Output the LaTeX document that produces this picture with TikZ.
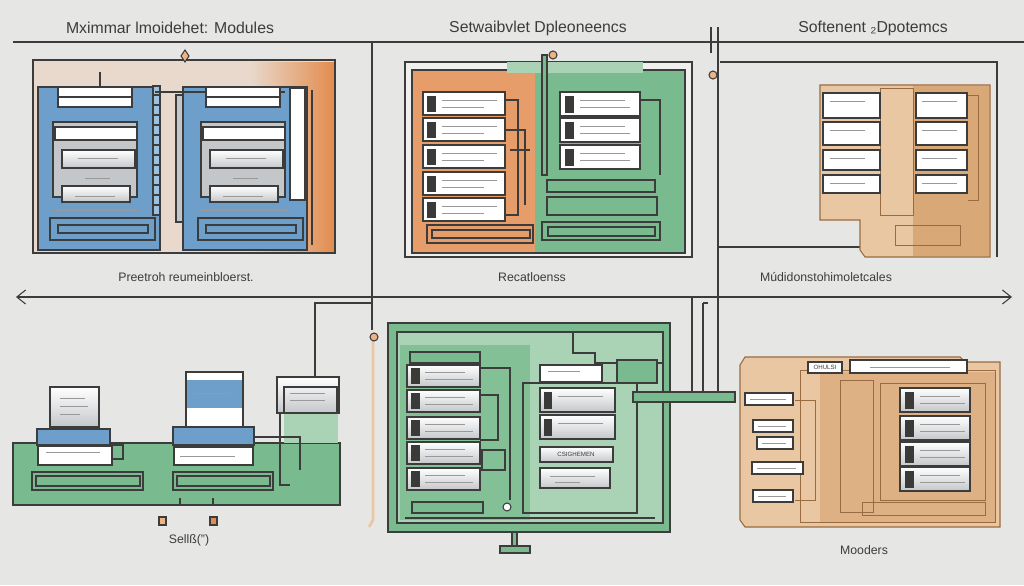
\documentclass[tikz,border=0pt]{standalone}
\usepackage{fontspec}
\setmainfont{Liberation Sans}
\usetikzlibrary{arrows.meta}

\definecolor{paper}{HTML}{E6E6E4}
\definecolor{inkline}{HTML}{3C3C3C}
\definecolor{bluepanel}{HTML}{6E9FCB}
\definecolor{bluelight}{HTML}{9CC0DF}
\definecolor{orangepanel}{HTML}{E38C4E}
\definecolor{orangelight}{HTML}{EDB384}
\definecolor{greenpanel}{HTML}{79BB8F}
\definecolor{greenlight}{HTML}{A9D3B4}
\definecolor{tanpanel}{HTML}{D9A877}
\definecolor{tanlight}{HTML}{E8C7A2}
\definecolor{tanline}{HTML}{9A6B40}
\definecolor{boxgray}{HTML}{C4C7CA}
\definecolor{tabdark}{HTML}{3A3A38}

\tikzset{
  titlelabel/.style={font=\fontsize{9}{11}\selectfont, text=inkline},
  sublabel/.style={font=\fontsize{7}{9}\selectfont, text=inkline},
  tinylabel/.style={font=\fontsize{3.5}{4}\selectfont, text=inkline},
  wire/.style={draw=inkline, line width=0.6pt},
  rowbox/.style={draw=inkline, fill=white, line width=0.7pt},
  grayrow/.style={draw=inkline, top color=white, bottom color=boxgray, line width=0.7pt},
  scribble/.style={draw=gray!80, line width=0.5pt},
}

\begin{document}
\begin{tikzpicture}[x=0.02cm, y=-0.02cm]
    \fill[paper] (0,0) rectangle (1024,585);
    \useasboundingbox (0,0) rectangle (1024,585);

    % Titoli e righe
    \node[titlelabel] (titleA) at (170,28) {Mximmar lmoidehet: Modules};
    \node[titlelabel] (titleB) at (538,28) {Setwaibvlet Dpleoneencs};
    \node[titlelabel] (titleC) at (873,28) {Softenent ₂Dpotemcs};
    \draw[wire] (13,42) -- (1024,42);
    \draw[wire] (372,42) -- (372,330);
    \draw[wire] (711,27) -- (711,53);
    \draw[wire] (718,27) -- (718,330);

    % Asse
    \coordinate (axisL) at (16,297);
    \coordinate (axisR) at (1012,297);
    \draw[wire, {Straight Barb[length=5pt,width=8pt]}-{Straight Barb[length=5pt,width=8pt]}] (axisL) -- (axisR);

    % Pannello blu (in alto a sinistra)
    \draw[wire, fill=orangelight!25!paper] (33,60) rectangle (335,253);
    \shade[left color=orangelight!25!paper, right color=orangepanel] (250,62) rectangle (334,252);
    \draw[wire] (33,60) rectangle (335,253);
    \draw[wire, fill=bluepanel] (38,87) rectangle (160,250);
    \draw[wire, fill=bluepanel] (183,87) rectangle (307,250);
    \draw[wire, fill=bluelight] (153,86) rectangle (160,215);
    \foreach \y in {95,105,...,205} {
        \draw[wire] (153,\y) -- (160,\y);
    }
    \draw[wire, fill=boxgray] (176,95) rectangle (183,222);
    \draw[wire] (155,92) -- (285,92);
    \draw[wire] (100,72) -- (100,87);
    \draw[wire, fill=orangelight] (185,50) -- (189,56) -- (185,62) -- (181,56) -- cycle;
    \foreach \dx in {0,148} {
        \draw[rowbox] (58+\dx,87) rectangle (132+\dx,107);
        \draw[wire] (58+\dx,97) -- (132+\dx,97);
        \draw[wire, fill=boxgray] (53+\dx,122) rectangle (137+\dx,197);
        \draw[rowbox] (55+\dx,127) rectangle (137+\dx,140);
        \draw[grayrow] (62+\dx,150) rectangle (135+\dx,168);
        \draw[scribble] (78+\dx,158) -- (118+\dx,158);
        \draw[scribble] (85+\dx,178) -- (110+\dx,178);
        \draw[grayrow] (62+\dx,186) rectangle (130+\dx,202);
        \draw[scribble] (75+\dx,196) -- (115+\dx,196);
        \draw[scribble] (52+\dx,210) -- (140+\dx,210);
        \draw[wire] (50+\dx,218) rectangle (155+\dx,240);
        \draw[wire] (58+\dx,225) rectangle (148+\dx,233);
    }
    \draw[rowbox] (290,88) rectangle (305,200);
    \draw[wire] (312,90) -- (312,245);
    \node[sublabel] (labA) at (186,277) {Preetroh reumeinbloerst.};

    % Pannello arancio/verde (in alto al centro)
    \draw[wire, fill=white!40!paper] (405,62) rectangle (692,257);
    \fill[orangepanel!85] (412,70) rectangle (535,253);
    \fill[greenpanel] (535,70) rectangle (685,253);
    \draw[wire] (412,70) rectangle (685,253);
    \fill[greenlight] (507,62) rectangle (643,73);
    \draw[wire, fill=greenpanel] (542,55) rectangle (547,175);
    \draw[wire, fill=orangelight] (553,55) circle (4);
    \foreach \y in {92,118,145,172,198} {
        \draw[rowbox] (423,\y) rectangle ++(82,23);
        \fill[tabdark] (427,\y+4) rectangle ++(9,16);
        \draw[scribble] (442,\y+8) -- ++(55,0);
        \draw[scribble] (442,\y+15) -- ++(42,0);
    }
    \foreach \y in {92,118,145} {
        \draw[rowbox] (560,\y) rectangle ++(80,24);
        \fill[tabdark] (565,\y+4) rectangle ++(9,17);
        \draw[scribble] (580,\y+8) -- ++(45,0);
        \draw[scribble] (580,\y+15) -- ++(50,0);
    }
    \draw[wire] (505,100) -- (518,100) -- (518,215) -- (505,215);
    \draw[wire] (505,130) -- (525,130) -- (525,205);
    \draw[wire] (510,150) -- (530,150);
    \draw[wire] (640,100) -- (660,100) -- (660,175);
    \draw[wire] (547,180) rectangle (655,192);
    \draw[wire] (547,197) rectangle (657,215);
    \draw[wire] (542,222) rectangle (660,240);
    \draw[wire] (548,227) rectangle (655,236);
    \draw[wire] (427,225) rectangle (533,243);
    \draw[wire] (432,230) rectangle (530,238);
    \node[sublabel] (labB) at (532,277) {Recatloenss};

    % Pannello marrone (in alto a destra)
    \draw[wire] (720,62) -- (997,62) -- (997,257);
    \draw[wire] (718,247) -- (865,247);
    \draw[wire, fill=orangelight] (713,75) circle (4);
    \draw[draw=tanline, line width=0.6pt, fill=tanlight]
        (820,85) -- (990,85) -- (990,257) -- (865,257) -- (860,250) -- (860,220) -- (820,220) -- cycle;
    \fill[tanpanel] (913,86) rectangle (989,256);
    \draw[draw=tanline] (880,88) rectangle (913,215);
    \draw[draw=tanline] (895,225) rectangle (960,245);
    \draw[draw=tanline] (968,95) -- (978,95) -- (978,200) -- (968,200);
    \foreach \y/\h in {93/25,122/23,150/20,175/18} {
        \draw[rowbox] (823,\y) rectangle ++(57,\h);
        \draw[scribble] (830,\y+8) -- ++(35,0);
        \draw[rowbox] (916,\y) rectangle ++(51,\h);
        \draw[scribble] (922,\y+8) -- ++(35,0);
    }
    \node[sublabel] (labC) at (826,277) {Múdidonstohimoletcales};

    % Barra verde (in basso a sinistra)
    \draw[wire, fill=greenpanel] (13,443) rectangle (340,505);
    \fill[greenlight] (284,413) rectangle (338,443);
    \draw[wire] (32,472) rectangle (143,490);
    \draw[wire] (36,476) rectangle (140,486);
    \draw[wire] (173,472) rectangle (273,490);
    \draw[wire] (177,476) rectangle (270,486);
    \draw[wire] (180,498) -- (180,505);
    \draw[wire] (213,498) -- (213,505);
    \draw[grayrow] (50,387) rectangle (99,427);
    \draw[scribble] (60,398) -- (85,398);
    \draw[scribble] (60,406) -- (88,406);
    \draw[scribble] (60,414) -- (80,414);
    \draw[wire, fill=bluepanel] (37,429) rectangle (110,445);
    \draw[rowbox] (38,446) rectangle (112,465);
    \draw[scribble] (46,452) -- (100,452);
    \draw[wire] (112,445) rectangle (123,459);
    \draw[rowbox] (186,372) rectangle (243,427);
    \fill[bluepanel] (187,380) rectangle (242,408);
    \draw[scribble] (193,393) -- (230,393);
    \draw[wire, fill=bluepanel] (173,427) rectangle (254,445);
    \draw[rowbox] (174,447) rectangle (253,465);
    \draw[scribble] (180,456) -- (235,456);
    \draw[grayrow] (277,377) rectangle (339,413);
    \draw[wire] (284,387) rectangle (337,413);
    \draw[scribble] (290,393) -- (325,393);
    \draw[scribble] (290,400) -- (325,400);
    \draw[wire] (254,437) -- (300,437) -- (300,470);
    \draw[wire] (280,413) -- (280,485) -- (290,485);
    \draw[wire, fill=orangelight] (159,517) rectangle ++(7,8);
    \draw[wire, fill=orangepanel] (210,517) rectangle ++(7,8);
    \coordinate (specTop) at (315,377);
    \coordinate (specHook) at (372,303);
    \draw[wire] (specTop) |- (specHook);
    \draw[draw=tanlight, line width=1.5pt] (373,340) -- (373,520) -- (369,527);
    \draw[wire, fill=orangelight] (374,337) circle (4);
    \node[sublabel] (labD) at (189,540) {Sellß(")};

    % Pannello verde (in basso al centro)
    \draw[wire, fill=greenpanel] (388,323) rectangle (670,532);
    \draw[wire, fill=greenlight] (397,332) rectangle (663,523);
    \fill[greenpanel!80!greenlight] (400,345) rectangle (530,520);
    \draw[wire] (397,332) -- (573,332) -- (573,353) -- (595,353) -- (595,363) -- (663,363);
    \draw[wire, fill=greenpanel] (410,352) rectangle (480,363);
    \draw[wire] (523,383) rectangle (637,513);
    \draw[wire] (480,368) -- (510,368) -- (510,500);
    \draw[wire] (480,395) -- (498,395) -- (498,440) -- (480,440);
    \draw[wire] (482,450) rectangle (505,470);
    \draw[wire] (405,518) -- (655,518);
    \foreach \y in {365,390,417,442,468} {
        \draw[grayrow] (407,\y) rectangle ++(73,22);
        \fill[tabdark] (411,\y+3) rectangle ++(9,16);
        \draw[scribble] (425,\y+7) -- ++(40,0);
        \draw[scribble] (425,\y+14) -- ++(48,0);
    }
    \draw[rowbox] (540,365) rectangle (602,382);
    \draw[scribble] (548,371) -- (580,371);
    \foreach \y in {388,415} {
        \draw[grayrow] (540,\y) rectangle ++(75,24);
        \fill[tabdark] (544,\y+4) rectangle ++(8,17);
        \draw[scribble] (558,\y+8) -- ++(45,0);
    }
    \draw[grayrow] (540,447) rectangle (613,462);
    \node[tinylabel] (csBox) at (576,454.5) {CSIGHEMEN};
    \draw[grayrow] (540,468) rectangle (610,488);
    \draw[scribble] (550,476) -- (595,476);
    \draw[scribble] (555,482) -- (580,482);
    \draw[wire, fill=greenpanel] (617,360) rectangle (657,383);
    \draw[wire, fill=greenpanel] (412,502) rectangle (483,513);
    \draw[wire, fill=white] (507,507) circle (4);
    \draw[wire, fill=greenpanel] (512,532) rectangle (517,547);
    \draw[wire, fill=greenpanel] (500,546) rectangle (530,553);
    \draw[wire, fill=greenpanel] (633,392) rectangle (735,402);
    \draw[wire] (692,297) -- (692,392);
    \draw[wire] (703,303) -- (708,303);
    \draw[wire] (703,303) -- (703,392);
    \draw[wire] (718,330) -- (718,392);

    % Pannello marrone (in basso a destra)
    \draw[draw=tanline, line width=0.6pt, fill=tanlight]
        (745,357) -- (960,357) -- (965,362) -- (1000,362) -- (1000,527) -- (745,527) -- (740,520) -- (740,365) -- cycle;
    \fill[tanpanel!70!tanlight] (820,372) rectangle (995,522);
    \draw[draw=tanline] (800,370) rectangle (995,522);
    \draw[draw=tanline] (840,380) rectangle (873,512);
    \draw[draw=tanline] (880,383) rectangle (985,500);
    \draw[draw=tanline] (862,502) rectangle (985,515);
    \draw[draw=tanline] (795,400) -- (815,400) -- (815,500) -- (795,500);
    \draw[rowbox] (808,362) rectangle (842,373);
    \node[tinylabel] (ohulsi) at (825,367.5) {OHULSI};
    \draw[rowbox] (850,360) rectangle (967,373);
    \draw[scribble] (870,367) -- (950,367);
    \foreach \x/\y/\w in {745/393/48,753/420/40,757/437/36,752/462/51,753/490/40} {
        \draw[rowbox] (\x,\y) rectangle ++(\w,12);
        \draw[scribble] (\x+5,\y+6) -- ++(\w-12,0);
    }
    \foreach \y in {388,416,442,467} {
        \draw[grayrow] (900,\y) rectangle ++(70,24);
        \fill[tabdark] (905,\y+4) rectangle ++(9,17);
        \draw[scribble] (920,\y+8) -- ++(40,0);
        \draw[scribble] (920,\y+15) -- ++(45,0);
    }
    \node[sublabel] (labE) at (864,550) {Mooders};
\end{tikzpicture}
\end{document}
